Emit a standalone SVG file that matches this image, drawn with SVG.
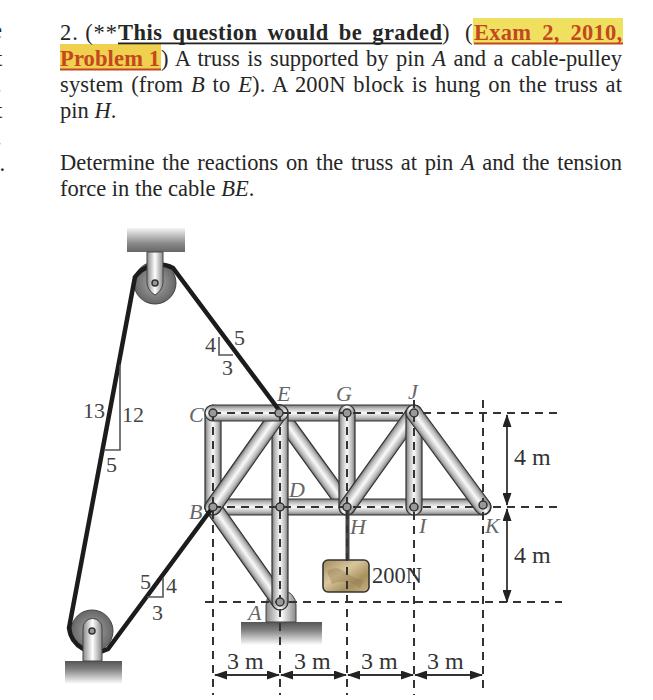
<svg xmlns="http://www.w3.org/2000/svg" width="653" height="700" viewBox="0 0 653 700">
<style>
text{font-family:"Liberation Serif","Times New Roman",serif;fill:#262626}
.t{font-size:22.5px}
.b{font-weight:bold}
.o{fill:#c4481f}
.i{font-style:italic}
.l{font-size:22px;font-style:italic;fill:#666}
.n{font-size:22px;fill:#444}
.d{font-size:24px;fill:#333}
.m{fill:url(#mg);stroke:#333;stroke-width:1.2}
.dash{stroke:#333;stroke-width:2;stroke-dasharray:8 6;fill:none}
.pin{fill:#999;stroke:#333;stroke-width:1.5}
.tri{fill:none;stroke:#555;stroke-width:1.6}
.dim{stroke:#333;stroke-width:1.8;fill:none;marker-start:url(#ah);marker-end:url(#ah)}
</style>
<defs>
<linearGradient id="mg" x1="0" y1="0" x2="0" y2="1"><stop offset="0" stop-color="#777"/><stop offset=".2" stop-color="#bbb"/><stop offset=".5" stop-color="#fafafa"/><stop offset=".8" stop-color="#bbb"/><stop offset="1" stop-color="#777"/></linearGradient>
<linearGradient id="cl" x1="0" y1="0" x2="1" y2="0"><stop offset="0" stop-color="#888"/><stop offset=".5" stop-color="#fff"/><stop offset="1" stop-color="#888"/></linearGradient>
<linearGradient id="down" x1="0" y1="0" x2="0" y2="1"><stop offset="0" stop-color="#555"/><stop offset=".35" stop-color="#808080"/><stop offset="1" stop-color="#fff"/></linearGradient>
<linearGradient id="up" x1="0" y1="1" x2="0" y2="0"><stop offset="0" stop-color="#666"/><stop offset=".35" stop-color="#888"/><stop offset="1" stop-color="#f4f4f4"/></linearGradient>
<radialGradient id="pg"><stop offset="0" stop-color="#aaa"/><stop offset="1" stop-color="#666"/></radialGradient>
<linearGradient id="rock" x1="0" y1="0" x2="1" y2="1"><stop offset="0" stop-color="#a08a5c"/><stop offset=".4" stop-color="#d9c79c"/><stop offset=".7" stop-color="#a8905f"/><stop offset="1" stop-color="#c9b485"/></linearGradient>
<marker id="ah" markerWidth="13" markerHeight="9" refX="12" refY="4.500" orient="auto-start-reverse" markerUnits="userSpaceOnUse"><path d="M0 0L13 4.500L0 9Z" fill="#222"/></marker>
</defs>
<rect width="653" height="700" fill="#fff"/>

<g id="question">
<rect x="473" y="18" width="150" height="26" fill="#efe15f"/>
<rect x="60" y="44" width="101" height="26" fill="#efd04f"/>
<text x="-8" y="38" class="t">e</text><text x="-4" y="66" class="t">t</text><text x="-4" y="92" class="t">.</text><text x="-4" y="118" class="t">t</text><text x="-4" y="145" class="t">.</text><text x="-8" y="171" class="t">).</text>
<text x="60" y="40" class="t" textLength="57">2. (**</text>
<text x="118" y="40" class="t b" textLength="324" word-spacing="4">This question would be graded</text>
<text x="442" y="40" class="t">)</text><text x="465" y="40" class="t">(</text>
<text x="474" y="40" class="t b o" textLength="148" word-spacing="5">Exam 2, 2010,</text>
<text x="60" y="66" class="t b o" textLength="100">Problem 1</text>
<text x="161" y="66" class="t" textLength="461" word-spacing="2">) A truss is supported by pin <tspan class="i">A</tspan> and a cable-pulley</text>
<text x="60" y="92" class="t" textLength="562" word-spacing="2">system (from <tspan class="i">B</tspan> to <tspan class="i">E</tspan>). A 200N block is hung on the truss at</text>
<text x="60" y="118" class="t">pin <tspan class="i">H</tspan>.</text>
<text x="60" y="170" class="t" textLength="562" word-spacing="2">Determine the reactions on the truss at pin <tspan class="i">A</tspan> and the tension</text>
<text x="60" y="196" class="t">force in the cable <tspan class="i">BE</tspan>.</text>
<rect x="118" y="42.500" width="324" height="1.800" fill="#222"/>
<rect x="474" y="42.500" width="149" height="2" fill="#c4481f"/>
<rect x="60" y="68.500" width="101" height="2" fill="#c4481f"/>
</g>

<g id="supports">
<rect x="127" y="228" width="58" height="24" fill="url(#up)"/>
<rect x="65" y="661" width="57" height="23" fill="url(#down)"/>
<rect x="241" y="622" width="81" height="23" fill="url(#down)"/>
<path d="M266 622V605A15 15 0 0 1 296 605V622Z" fill="url(#cl)" stroke="#444"/>
</g>

<g id="pulley-top"><circle cx="155" cy="283" r="21" fill="url(#pg)" stroke="#444"/></g>
<g id="pulley-bottom"><circle cx="92" cy="631" r="21" fill="url(#pg)" stroke="#444"/></g>

<g id="truss">
<rect class="m" x="-8" y="-8" width="132" height="16" rx="8" transform="translate(279 413) rotate(54.100)"/>
<rect class="m" x="205" y="499" width="286" height="16" rx="8"/>
<rect class="m" x="271" y="405" width="151" height="16" rx="8"/>
<rect class="m" x="-8" y="-8" width="132" height="16" rx="8" transform="translate(213 507) rotate(54.800)"/>
<rect class="m" x="-8" y="-8" width="110" height="16" rx="8" transform="translate(213 413) rotate(90)"/>
<rect class="m" x="-8" y="-8" width="205" height="16" rx="8" transform="translate(280 413) rotate(90)"/>
<rect class="m" x="-8" y="-8" width="110" height="16" rx="8" transform="translate(347 413) rotate(90)"/>
<rect class="m" x="-8" y="-8" width="131" height="16" rx="8" transform="translate(347 507) rotate(-54.500)"/>
<rect class="m" x="-8" y="-8" width="110" height="16" rx="8" transform="translate(414 413) rotate(90)"/>
<rect class="m" x="-8" y="-8" width="132" height="16" rx="8" transform="translate(414 413) rotate(53.700)"/>
<rect class="m" x="-8" y="-8" width="131" height="16" rx="8" transform="translate(213 507) rotate(-54.900)"/>
<rect class="m" x="205" y="405" width="83" height="16" rx="8"/>
</g>

<g id="block">
<rect x="345.500" y="507" width="4" height="54" fill="#444"/>
<rect x="323" y="560" width="46" height="32" rx="5" fill="url(#rock)" stroke="#333" stroke-width="1.600"/>
<path d="M327 571Q336 565 345 572T364 580L360 588Q346 578 332 584Z" fill="#8a7448" opacity=".35"/>
</g>

<g id="connectors">
<g class="dash">
<path d="M213 413H562M213 507H562M205 602H562"/>
<path d="M213 413V695M280 413V695M347 413V695M414 400V695M483 400V692"/>
</g>
<path d="M279 410L173 268A30 30 0 0 0 135 277L69 628A27 27 0 0 0 108 649L213 507" fill="none" stroke="#1c1c1c" stroke-width="4.500"/>
<path class="dim" d="M507 415V505"/>
<path class="dim" d="M507 509V602"/>
<path class="dim" d="M215 675H279"/>
<path class="dim" d="M281 675H346"/>
<path class="dim" d="M348 675H413"/>
<path class="dim" d="M415 675H482"/>
</g>

<g id="clevis-top">
<path d="M147 252V283Q148 291 155 295Q162 291 163 283V252Z" fill="url(#cl)" stroke="#444"/>
<circle cx="155" cy="283" r="3" class="pin"/>
</g>
<g id="clevis-bottom">
<path d="M83 661V628A9.500 9.500 0 0 1 102 628V661Z" fill="url(#cl)" stroke="#444"/>
<circle cx="92" cy="631" r="3" class="pin"/>
</g>

<g id="pins">
<circle cx="213" cy="413" r="4" class="pin"/><circle cx="279" cy="413" r="4" class="pin"/><circle cx="347" cy="413" r="4" class="pin"/><circle cx="414" cy="413" r="4" class="pin"/>
<circle cx="213" cy="507" r="4" class="pin"/><circle cx="280" cy="507" r="4" class="pin"/><circle cx="347" cy="507" r="4" class="pin"/><circle cx="414" cy="507" r="4" class="pin"/><circle cx="483" cy="505" r="4" class="pin"/>
<circle cx="280" cy="602" r="4" class="pin"/>
</g>

<g id="slopes">
<path class="tri" d="M219 337V355H233"/>
<path class="tri" d="M120 365V450H104"/>
<path class="tri" d="M163 578V597H147"/>
<text x="205" y="352" class="n">4</text><text x="234" y="345" class="n">5</text><text x="222" y="375" class="n">3</text>
<text x="83" y="418" class="n">13</text><text x="122" y="422" class="n">12</text><text x="106" y="472" class="n">5</text>
<text x="140" y="589" class="n">5</text><text x="166" y="593" class="n">4</text><text x="152" y="620" class="n">3</text>
</g>

<g id="labels">
<text x="277" y="401" class="l">E</text><text x="336" y="401" class="l">G</text><text x="408" y="399" class="l">J</text>
<text x="189" y="422" class="l">C</text><text x="289" y="497" class="l">D</text><text x="189" y="519" class="l">B</text>
<text x="350" y="534" class="l">H</text><text x="419" y="533" class="l">I</text><text x="485" y="533" class="l">K</text>
<text x="248" y="620" class="l">A</text>
<text x="372" y="583" style="font-size:22.500px;fill:#333">200N</text>
<text x="514" y="465" class="d">4 m</text><text x="514" y="563" class="d">4 m</text>
<text x="227" y="669" class="d">3 m</text><text x="294" y="669" class="d">3 m</text><text x="361" y="669" class="d">3 m</text><text x="427" y="669" class="d">3 m</text>
</g>
</svg>
